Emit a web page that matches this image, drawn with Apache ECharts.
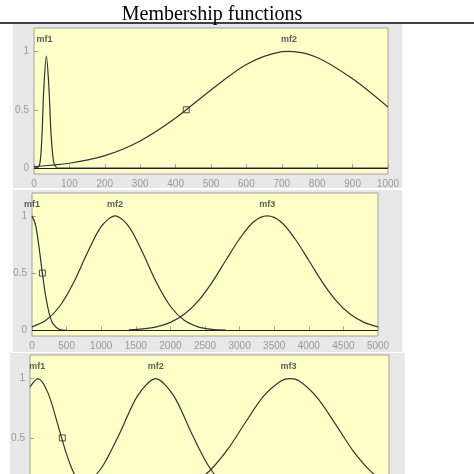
<!DOCTYPE html>
<html>
<head>
<meta charset="utf-8">
<script src="https://cdn.jsdelivr.net/npm/echarts@6/dist/echarts.min.js"></script>
<style>html,body{margin:0;padding:0;background:#fff;overflow:hidden}#chart{width:474px;height:520px}</style>
</head>
<body>
<div id="chart"></div>
<script>
// panel 1 (0..1000)
var p1_mf1 = [[0,0],[15,0.02],[22,0.25],[28,0.7],[35,0.96],[42,0.7],[48,0.3],[55,0.06],[62,0.01],[70,0],[1000,0]];
var p1_mf2 = [[0,0.014],[100,0.042],[200,0.107],[300,0.233],[400,0.429],[500,0.67],[600,0.888],[700,0.997],[720,1],[800,0.948],[900,0.765],[1000,0.523]];
var p1_marks = [[430,0.5]];
var p1_names = [['mf1',30,1.1],['mf2',720,1.1]];
// panel 2 (0..5000)
var p2_mf1 = [[0,1],[50,0.925],[100,0.733],[150,0.498],[200,0.289],[250,0.144],[300,0.061],[400,0.007],[500,0]];
var p2_mf2 = [[0,0.03],[200,0.087],[400,0.21],[600,0.416],[800,0.677],[1000,0.907],[1200,1],[1400,0.907],[1600,0.677],[1800,0.416],[2000,0.21],[2200,0.087],[2400,0.03],[2600,0.008],[2800,0.002]];
var p2_mf3 = [[1400,0.004],[1600,0.012],[1800,0.03],[2000,0.069],[2200,0.14],[2400,0.255],[2600,0.417],[2800,0.61],[3000,0.8],[3200,0.947],[3400,1],[3600,0.947],[3800,0.8],[4000,0.61],[4200,0.417],[4400,0.255],[4600,0.14],[4800,0.069],[5000,0.03]];
var p2_marks = [[150,0.5]];
var p2_names = [['mf1',0,1.1],['mf2',1200,1.1],['mf3',3400,1.1]];
// panel 3 (0..100, bottom cut off)
var p3_mf1 = [[0,0.93],[2.2,1],[5,0.88],[8,0.585],[10,0.38],[12,0.216],[15,0.073],[20,0.006]];
var p3_mf2 = [[15,0.085],[20,0.25],[25,0.54],[30,0.857],[35,1],[40,0.857],[45,0.54],[50,0.25],[55,0.085],[60,0.021]];
var p3_mf3 = [[40,0.043],[45,0.105],[50,0.22],[55,0.4],[60,0.63],[65,0.85],[70,0.983],[72.4,1],[75,0.98],[80,0.84],[85,0.62],[90,0.39],[95,0.215],[100,0.1]];
var p3_marks = [[9,0.5]];
var p3_names = [['mf1',2,1.1],['mf2',35,1.1],['mf3',72,1.1]];
var yTicks = [0, 0.5, 1];

var myChart = echarts.init(document.getElementById('chart'));
var grids = [
  {left:34, top:28, width:354, height:146},
  {left:32, top:193, width:346, height:143},
  {left:30, top:355, width:359, height:148}
];
var ranges = [[0,1000,100],[0,5000,500],[0,100,10]];
var lineSets = [[p1_mf1,p1_mf2],[p2_mf1,p2_mf2,p2_mf3],[p3_mf1,p3_mf2,p3_mf3]];
var markSets = [p1_marks,p2_marks,p3_marks];
var nameSets = [p1_names,p2_names,p3_names];

var option = {
  animation:false,
  title:{text:'Membership functions', left:207, top:0, textAlign:'center',
    textStyle:{fontFamily:'Liberation Serif', fontWeight:'normal', fontSize:20, color:'#000'}},
  graphic:[
    {type:'line', shape:{x1:0,y1:23,x2:474,y2:23}, style:{stroke:'#000', lineWidth:1.5}, z:-1},
    {type:'rect', shape:{x:13,y:24,width:389,height:164}, style:{fill:'#e8e8e8'}, z:-10},
    {type:'rect', shape:{x:13,y:190,width:389,height:162}, style:{fill:'#e8e8e8'}, z:-10},
    {type:'rect', shape:{x:10,y:353,width:395,height:170}, style:{fill:'#e8e8e8'}, z:-10}
  ],
  grid: grids.map(function(g){ return Object.assign({show:true, backgroundColor:'#ffffc8', borderColor:'#a0a0a0', borderWidth:1}, g); }),
  xAxis: ranges.map(function(r,i){ return {
    type:'value', gridIndex:i, min:r[0], max:r[1], interval:r[2],
    axisLine:{show:false}, splitLine:{show:false},
    axisTick:{inside:true, length:4, lineStyle:{color:'#a0a0a0'}},
    axisLabel:{color:'#999', fontSize:10, margin:5, fontFamily:'Arial',
      formatter:function(v){ return String(v); }}
  };}),
  yAxis: ranges.map(function(r,i){ return {
    type:'value', gridIndex:i, min:-0.05, max:1.2,
    axisLine:{show:false}, splitLine:{show:false},
    axisTick:{inside:true, length:4, customValues:yTicks, lineStyle:{color:'#a0a0a0'}},
    axisLabel:{color:'#999', fontSize:10, margin:5, fontFamily:'Arial', customValues:yTicks,
      formatter:function(v){ return String(v); }}
  };}),
  series:[]
};
lineSets.forEach(function(set,i){
  set.forEach(function(d,k){
    option.series.push({type:'line', xAxisIndex:i, yAxisIndex:i, data:d, smooth:0.3,
      showSymbol:false, lineStyle:{color:'#333', width:1.2},
      markLine: k===0 ? {silent:true, symbol:'none', label:{show:false},
        lineStyle:{color:'#222', type:'solid', width:1.2}, data:[{yAxis:0}]} : undefined});
  });
  option.series.push({type:'scatter', xAxisIndex:i, yAxisIndex:i, data:markSets[i],
    symbol:'rect', symbolSize:6, itemStyle:{color:'transparent', borderColor:'#222', borderWidth:1}});
  option.series.push({type:'scatter', xAxisIndex:i, yAxisIndex:i, symbolSize:0,
    data:nameSets[i].map(function(n){ return {name:n[0], value:[n[1],n[2]]}; }),
    label:{show:true, position:'inside', formatter:'{b}', color:'#333', fontSize:9, fontWeight:'bold', fontFamily:'Arial'}});
});
myChart.setOption(option);
</script>
</body>
</html>
